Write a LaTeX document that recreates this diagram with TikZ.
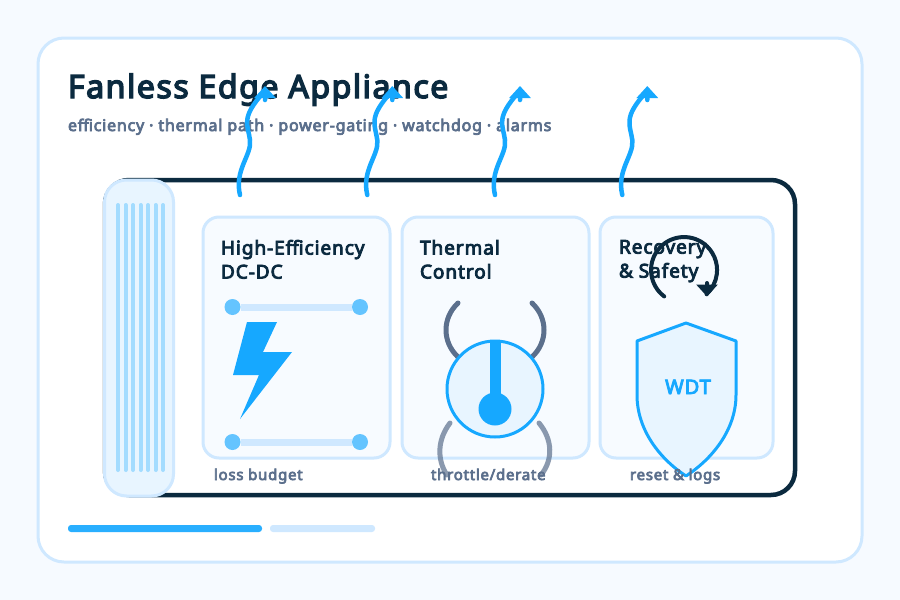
\documentclass[tikz,border=0pt]{standalone}
\usepackage{fontspec}
\setmainfont{Noto Sans}[BoldFont={Noto Sans},BoldFeatures={FakeBold=4.5,LetterSpace=4.9}]
\usetikzlibrary{arrows.meta}

\definecolor{inkdark}{HTML}{0B2A3F}
\definecolor{slate}{HTML}{5B6F8C}
\definecolor{accent}{HTML}{16A8FF}
\definecolor{pale}{HTML}{CFE8FF}
\definecolor{finblue}{HTML}{A3DCFF}
\definecolor{wash}{HTML}{E8F5FF}
\definecolor{panelfill}{HTML}{F7FBFF}
\definecolor{pagebg}{HTML}{F6FAFF}

\begin{document}
\begin{tikzpicture}[%
    x=1pt, y=1pt, yscale=-1,
    >={Triangle[width=21pt,length=12pt]},
    box/.style={rectangle, draw, inner sep=0pt, outer sep=0pt},
    label/.style={inner sep=0pt, outer sep=0pt},
    panel/.style={box, draw=pale, fill=panelfill, line width=3pt, rounded corners=16pt},
    heading/.style={label, anchor=north west, align=left, text=inkdark,
      font=\fontsize{19}{24}\selectfont\bfseries},
    caption/.style={label, anchor=base west, text=slate, font=\fontsize{15}{16}\selectfont\bfseries},
    heat/.style={->, draw=accent, line width=4.5pt, line cap=round},
    strip/.style={draw=pale, line width=7pt},
    pad/.style={circle, fill=accent, fill opacity=.65, inner sep=0pt, minimum size=16pt},
    halo/.style={draw=slate, line width=5pt, line cap=round},
  ]
    \useasboundingbox (0,0) rectangle (900,600);
    \fill[pagebg] (0,0) rectangle (900,600);
    \node[box, draw=pale, fill=white, line width=3pt, rounded corners=26pt,
      minimum width=824pt, minimum height=524pt] (card) at (450,300) {};

    \node[label, anchor=base west, text=inkdark, font=\fontsize{32}{38}\selectfont\bfseries]
      (title) at (68,98) {Fanless Edge Appliance};
    \node[label, anchor=base west, text=slate, font=\fontsize{16}{18}\selectfont\bfseries]
      (subtitle) at (68,131) {efficiency · thermal path · power-gating · watchdog · alarms};

    \node[box, draw=inkdark, fill=white, line width=4.5pt, rounded corners=24pt,
      minimum width=690pt, minimum height=315pt] (chassis) at (450,337.5) {};
    \node[box, draw=pale, fill=wash, line width=3pt, rounded corners=22pt,
      minimum width=69pt, minimum height=316pt] (fins) at (139,338) {};
    \foreach \x in {0,...,6}
      \draw[finblue, line width=4pt, line cap=round] (118+7.5*\x,205) -- (118+7.5*\x,470);

    \node[panel, minimum width=187pt, minimum height=241pt] (dcdc) at (296.5,337.5) {};
    \node[panel, minimum width=187pt, minimum height=241pt] (thermal) at (495.5,337.5) {};
    \node[panel, minimum width=173pt, minimum height=241pt] (safety) at (686.5,337.5) {};

    \node[heading] (dcdclabel) at (221,240) {High-Efficiency\\DC-DC};
    \node[heading] (thermallabel) at (420,240) {Thermal\\Control};
    \node[heading] (safetylabel) at (619,240) {Recovery\\\& Safety};

    % power rails and bolt
    \foreach \y/\n in {307/top, 442/bot} {
      \node[pad] (\n L) at (232.5,\y) {};
      \node[pad] (\n R) at (360,\y) {};
      \draw[strip] (\n L) -- (\n R);
    }
    \fill[accent] (247,322) -- (277,322) -- (263,352) -- (292,352) -- (240,419)
      -- (259,375) -- (233,375) -- cycle;

    % thermometer
    \draw[halo] (458,303) .. controls (442,318) and (442,342) .. (458,357);
    \draw[halo] (532,303) .. controls (548,318) and (548,342) .. (532,357);
    \draw[halo, opacity=.7] (450,423) .. controls (437,440) and (437,460) .. (447,475);
    \draw[halo, opacity=.7] (539,423) .. controls (553,440) and (553,460) .. (541,475);
    \node[circle, draw=accent, fill=wash, line width=3pt, inner sep=0pt, minimum size=96pt]
      (dial) at (495,389) {};
    \fill[accent] (489.5,342) rectangle (500.5,410);
    \node[circle, fill=accent, inner sep=0pt, minimum size=33pt] (bulb) at (495,409) {};

    % watchdog
    \draw[->, draw=inkdark, line width=4pt, line cap=round]
      (664.2,296.4) arc[start angle=127, end angle=407, radius=33pt] (707,283) -- (707,296.5);
    \draw[draw=accent, fill=wash, line width=3pt, line join=round] (686,323) -- (736,341)
      -- (736,395) .. controls (736,430) and (712,459) .. (686,476)
      .. controls (660,459) and (637,430) .. (637,395) -- (637,341) -- cycle;
    \node[label, anchor=base, text=accent, font=\fontsize{20}{24}\selectfont\bfseries]
      (wdt) at (688,394) {WDT};

    \node[caption] (lossbudget) at (214,480) {loss budget};
    \node[caption] (throttle) at (431,480) {throttle/derate};
    \node[caption] (resetlogs) at (630,480) {reset \& logs};

    % heat leaving the case
    \foreach \i/\s in {1/0, 2/127.3, 3/255, 4/382.3} {
      \coordinate (heatstart\i) at (240+\s,195);
      \coordinate (heatbase\i) at (265+\s,100);
      \coordinate (heatend\i) at (265+\s,86);
      \draw[heat] (heatstart\i) .. controls (234+\s,170) and (252+\s,155) .. (250+\s,140)
        .. controls (248+\s,125) and (240+\s,118) .. (264+\s,92) (heatbase\i) -- (heatend\i);
    }

    \fill[accent!92!white, rounded corners=3pt] (68,525) rectangle (262,532);
    \fill[pale, rounded corners=3pt] (270,525) rectangle (375,532);
  \end{tikzpicture}
\end{document}
